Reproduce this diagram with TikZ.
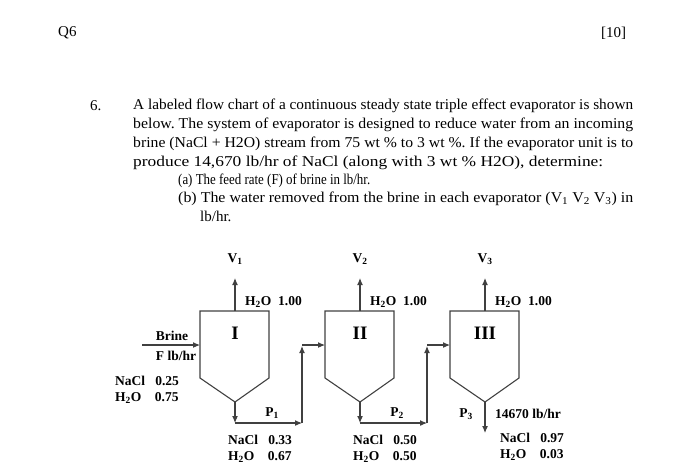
\documentclass[tikz,border=0pt]{standalone}
\usepackage{fontspec}
\setmainfont{Liberation Serif}
\usetikzlibrary{arrows.meta}
\frenchspacing
\begin{document}
\begin{tikzpicture}[x=1pt,y=-1pt,
  txt/.style={inner sep=0pt,anchor=west,font=\fontsize{15}{17}\selectfont},
  lab/.style={inner sep=0pt,font=\bfseries\fontsize{13.5}{15}\selectfont},
  roman/.style={inner sep=0pt,font=\bfseries\fontsize{19}{21}\selectfont},
  evap/.style={draw=black!75,line width=1.1pt},
  flow/.style={draw=black!75,line width=1.1pt,-{Latex[length=7pt,width=6pt]}}]
\useasboundingbox (0,0) rectangle (700,471);
\node[txt] (q) at (58,33) {Q6};
\node[txt] (m) at (601,33) {[10]};
\node[txt] (n) at (90,106) {6.};
\node[txt] (l1) at (133,106) {\resizebox{500pt}{\height}{A labeled flow chart of a continuous steady state triple effect evaporator is shown}};
\node[txt] (l2) at (133,125) {\resizebox{500pt}{\height}{below. The system of evaporator is designed to reduce water from an incoming}};
\node[txt] (l3) at (133,144) {\resizebox{500pt}{\height}{brine (NaCl + H2O) stream from 75 wt \% to 3 wt \%. If the evaporator unit is to}};
\node[txt] (l4) at (133,163) {\resizebox{470pt}{\height}{produce 14,670 lb/hr of NaCl (along with 3 wt \% H2O), determine:}};
\node[txt] (l5) at (178,181) {\resizebox{192pt}{\height}{(a) The feed rate (F) of brine in lb/hr.}};
\node[txt] (l6) at (178,199) {\resizebox{455pt}{\height}{(b) The water removed from the brine in each evaporator (V\textsubscript{1} V\textsubscript{2} V\textsubscript{3}) in}};
\node[txt] (l7) at (200,216) {lb/hr.};
% evaporators
\foreach \i/\r in {0/I,1/II,2/III}{
  \begin{scope}[xshift=\i*125]
  \draw[evap] (200,311) -- (269,311) -- (269,378) -- (235,402) -- (200,378) -- cycle;
  \coordinate (top\i) at (235,311);
  \coordinate (vap\i) at (235,278);
  \draw[flow] (top\i) -- (vap\i);
  \node[roman] (r\i) at (235,333) {\r};
  \node[lab,anchor=west] (h\i) at (245,302) {H\textsubscript{2}O\ \ 1.00};
  \end{scope}}
\node[lab] (v1) at (235,259) {V\textsubscript{1}};
\node[lab] (v2) at (360,259) {V\textsubscript{2}};
\node[lab] (v3) at (485,259) {V\textsubscript{3}};
% feed
\coordinate (fs) at (142,345);
\coordinate (fe) at (200,345);
\draw[flow] (fs) -- (fe);
\node[lab] (brine) at (172,336) {Brine};
\node[lab] (flb) at (176,356) {F lb/hr};
\node[lab,anchor=west] (fn) at (115,381) {NaCl\ \ \ 0.25};
\node[lab,anchor=west] (fh) at (115,398) {H\textsubscript{2}O\ \ \ \ 0.75};
% transfers
\foreach \i in {0,1}{
  \begin{scope}[xshift=\i*125]
  \coordinate (a\i) at (235,402);
  \coordinate (b\i) at (235,423);
  \coordinate (c\i) at (302,423);
  \coordinate (d\i) at (302,346);
  \coordinate (e\i) at (325,345);
  \draw[flow] (a\i) -- (b\i);
  \draw[flow] (b\i) -- (c\i);
  \draw[flow] (c\i) -- (d\i);
  \draw[flow] (302,345) -- (e\i);
  \end{scope}}
\node[lab] (p1) at (272,413) {P\textsubscript{1}};
\node[lab] (p2) at (397,413) {P\textsubscript{2}};
\node[lab,anchor=west] (n1) at (228,440) {NaCl\ \ \ 0.33};
\node[lab,anchor=west] (w1) at (228,457) {H\textsubscript{2}O\ \ \ \ 0.67};
\node[lab,anchor=west] (n2) at (353,440) {NaCl\ \ \ 0.50};
\node[lab,anchor=west] (w2) at (353,457) {H\textsubscript{2}O\ \ \ \ 0.50};
\coordinate (a2) at (485,402);
\coordinate (b2) at (485,433);
\draw[flow] (a2) -- (b2);
\node[lab] (p3) at (466,414) {P\textsubscript{3}};
\node[lab,anchor=west] (f3) at (495,414) {14670 lb/hr};
\node[lab,anchor=west] (n3) at (500,438) {NaCl\ \ \ 0.97};
\node[lab,anchor=west] (w3) at (500,455) {H\textsubscript{2}O\ \ \ \ 0.03};
\end{tikzpicture}
\end{document}
